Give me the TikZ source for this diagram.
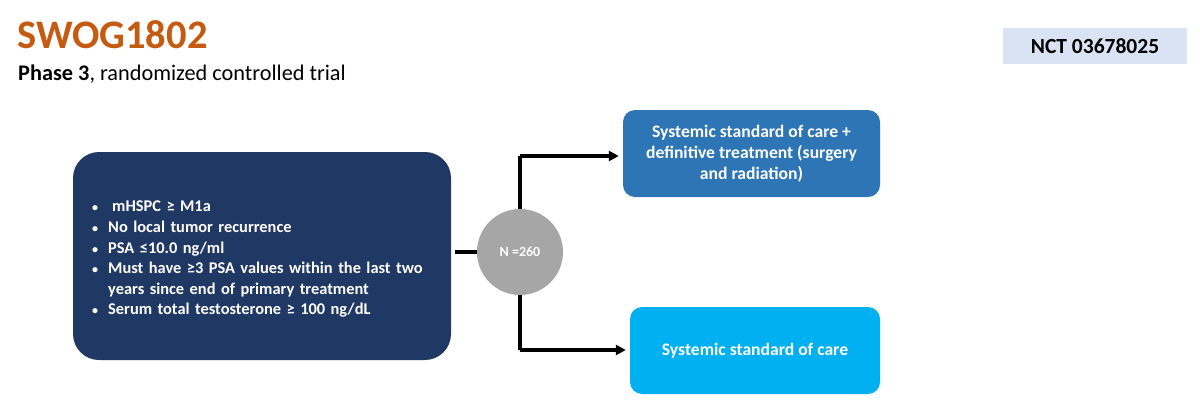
\documentclass[tikz,border=0pt]{standalone}
\usepackage{fontspec}
\setmainfont{Carlito}
\usetikzlibrary{arrows.meta,positioning}
\definecolor{titleor}{HTML}{C55A11}
\definecolor{navy}{HTML}{203864}
\definecolor{midblue}{HTML}{2E75B6}
\definecolor{cyanblue}{HTML}{00B0F0}
\definecolor{nctbg}{HTML}{DAE3F3}
\definecolor{circgray}{HTML}{A6A6A6}
\newcommand{\bitem}[1]{\hangindent=20pt\hangafter=1\noindent\makebox[20pt][l]{\hspace{4pt}{\fontsize{12}{12}\selectfont•}}#1\par}
\tikzset{
  armbox/.style={rounded corners=12pt, text=white, font=\bfseries\fontsize{17.6}{21}\selectfont, align=center, inner sep=0pt},
  conn/.style={line width=3.2pt, black},
  arr/.style={conn, -{Triangle[length=10pt,width=10pt]}, shorten >=4pt}
}
\begin{document}
\begin{tikzpicture}[x=1pt,y=-1pt]
\useasboundingbox (0,0) rectangle (1200,410);
% titles
\node[anchor=base west, inner sep=0pt, text=titleor, font=\bfseries\fontsize{40.5}{44}\selectfont] (title) at (17,48) {SWOG1802};
\node[anchor=base west, inner sep=0pt, font=\fontsize{22.3}{26}\selectfont] (sub) at (18,80) {\textbf{Phase 3}, randomized controlled trial};
% NCT box
\node[fill=nctbg, minimum width=184pt, minimum height=36pt, inner sep=0pt, font=\bfseries\fontsize{21.5}{24}\selectfont] (nct) at (1095,46) {NCT 03678025};
% left box
\path[fill=navy, rounded corners=26pt] (73,152) rectangle (451,360);
\node[inner sep=0pt, minimum width=378pt, minimum height=208pt] (incl) at (262,256) {};
\node[anchor=north west, inner sep=0pt, text=white, text width=370pt, align=left, font=\bfseries\fontsize{16.4}{20.6}\selectfont] (crit) at (88,201) {\raggedright
\bitem{\hspace{4pt}mHSPC ≥ M1a}
\bitem{No local tumor recurrence}
\bitem{PSA ≤10.0 ng/ml}
\bitem{Must have ≥3 PSA values within the last two\newline years since end of primary treatment}
\bitem{Serum total testosterone ≥ 100 ng/dL}};
% circle
\node[circle, fill=circgray, minimum size=86pt, inner sep=0pt, text=white, font=\bfseries\fontsize{14}{16}\selectfont] (rand) at (520,252) {N =260};
% arm boxes
\node[armbox, fill=midblue, minimum width=257pt, minimum height=87pt] (arm1) at (751.5,153.5) {Systemic standard of care +\\definitive treatment (surgery\\and radiation)};
\node[armbox, fill=cyanblue, minimum width=250pt, minimum height=87pt] (arm2) at (755,350.5) {Systemic standard of care};
% connectors
\draw[conn, shorten <=4pt] (rand.west -| incl.east) -- (rand.west);
\coordinate (c1) at (520,156);
\coordinate (c2) at (520,350);
\draw[conn] (rand.north) -- (c1);
\draw[arr] (c1) -- (arm1.west |- c1);
\draw[conn] (rand.south) -- (c2);
\draw[arr] (c2) -- (arm2.west |- c2);
\end{tikzpicture}
\end{document}
